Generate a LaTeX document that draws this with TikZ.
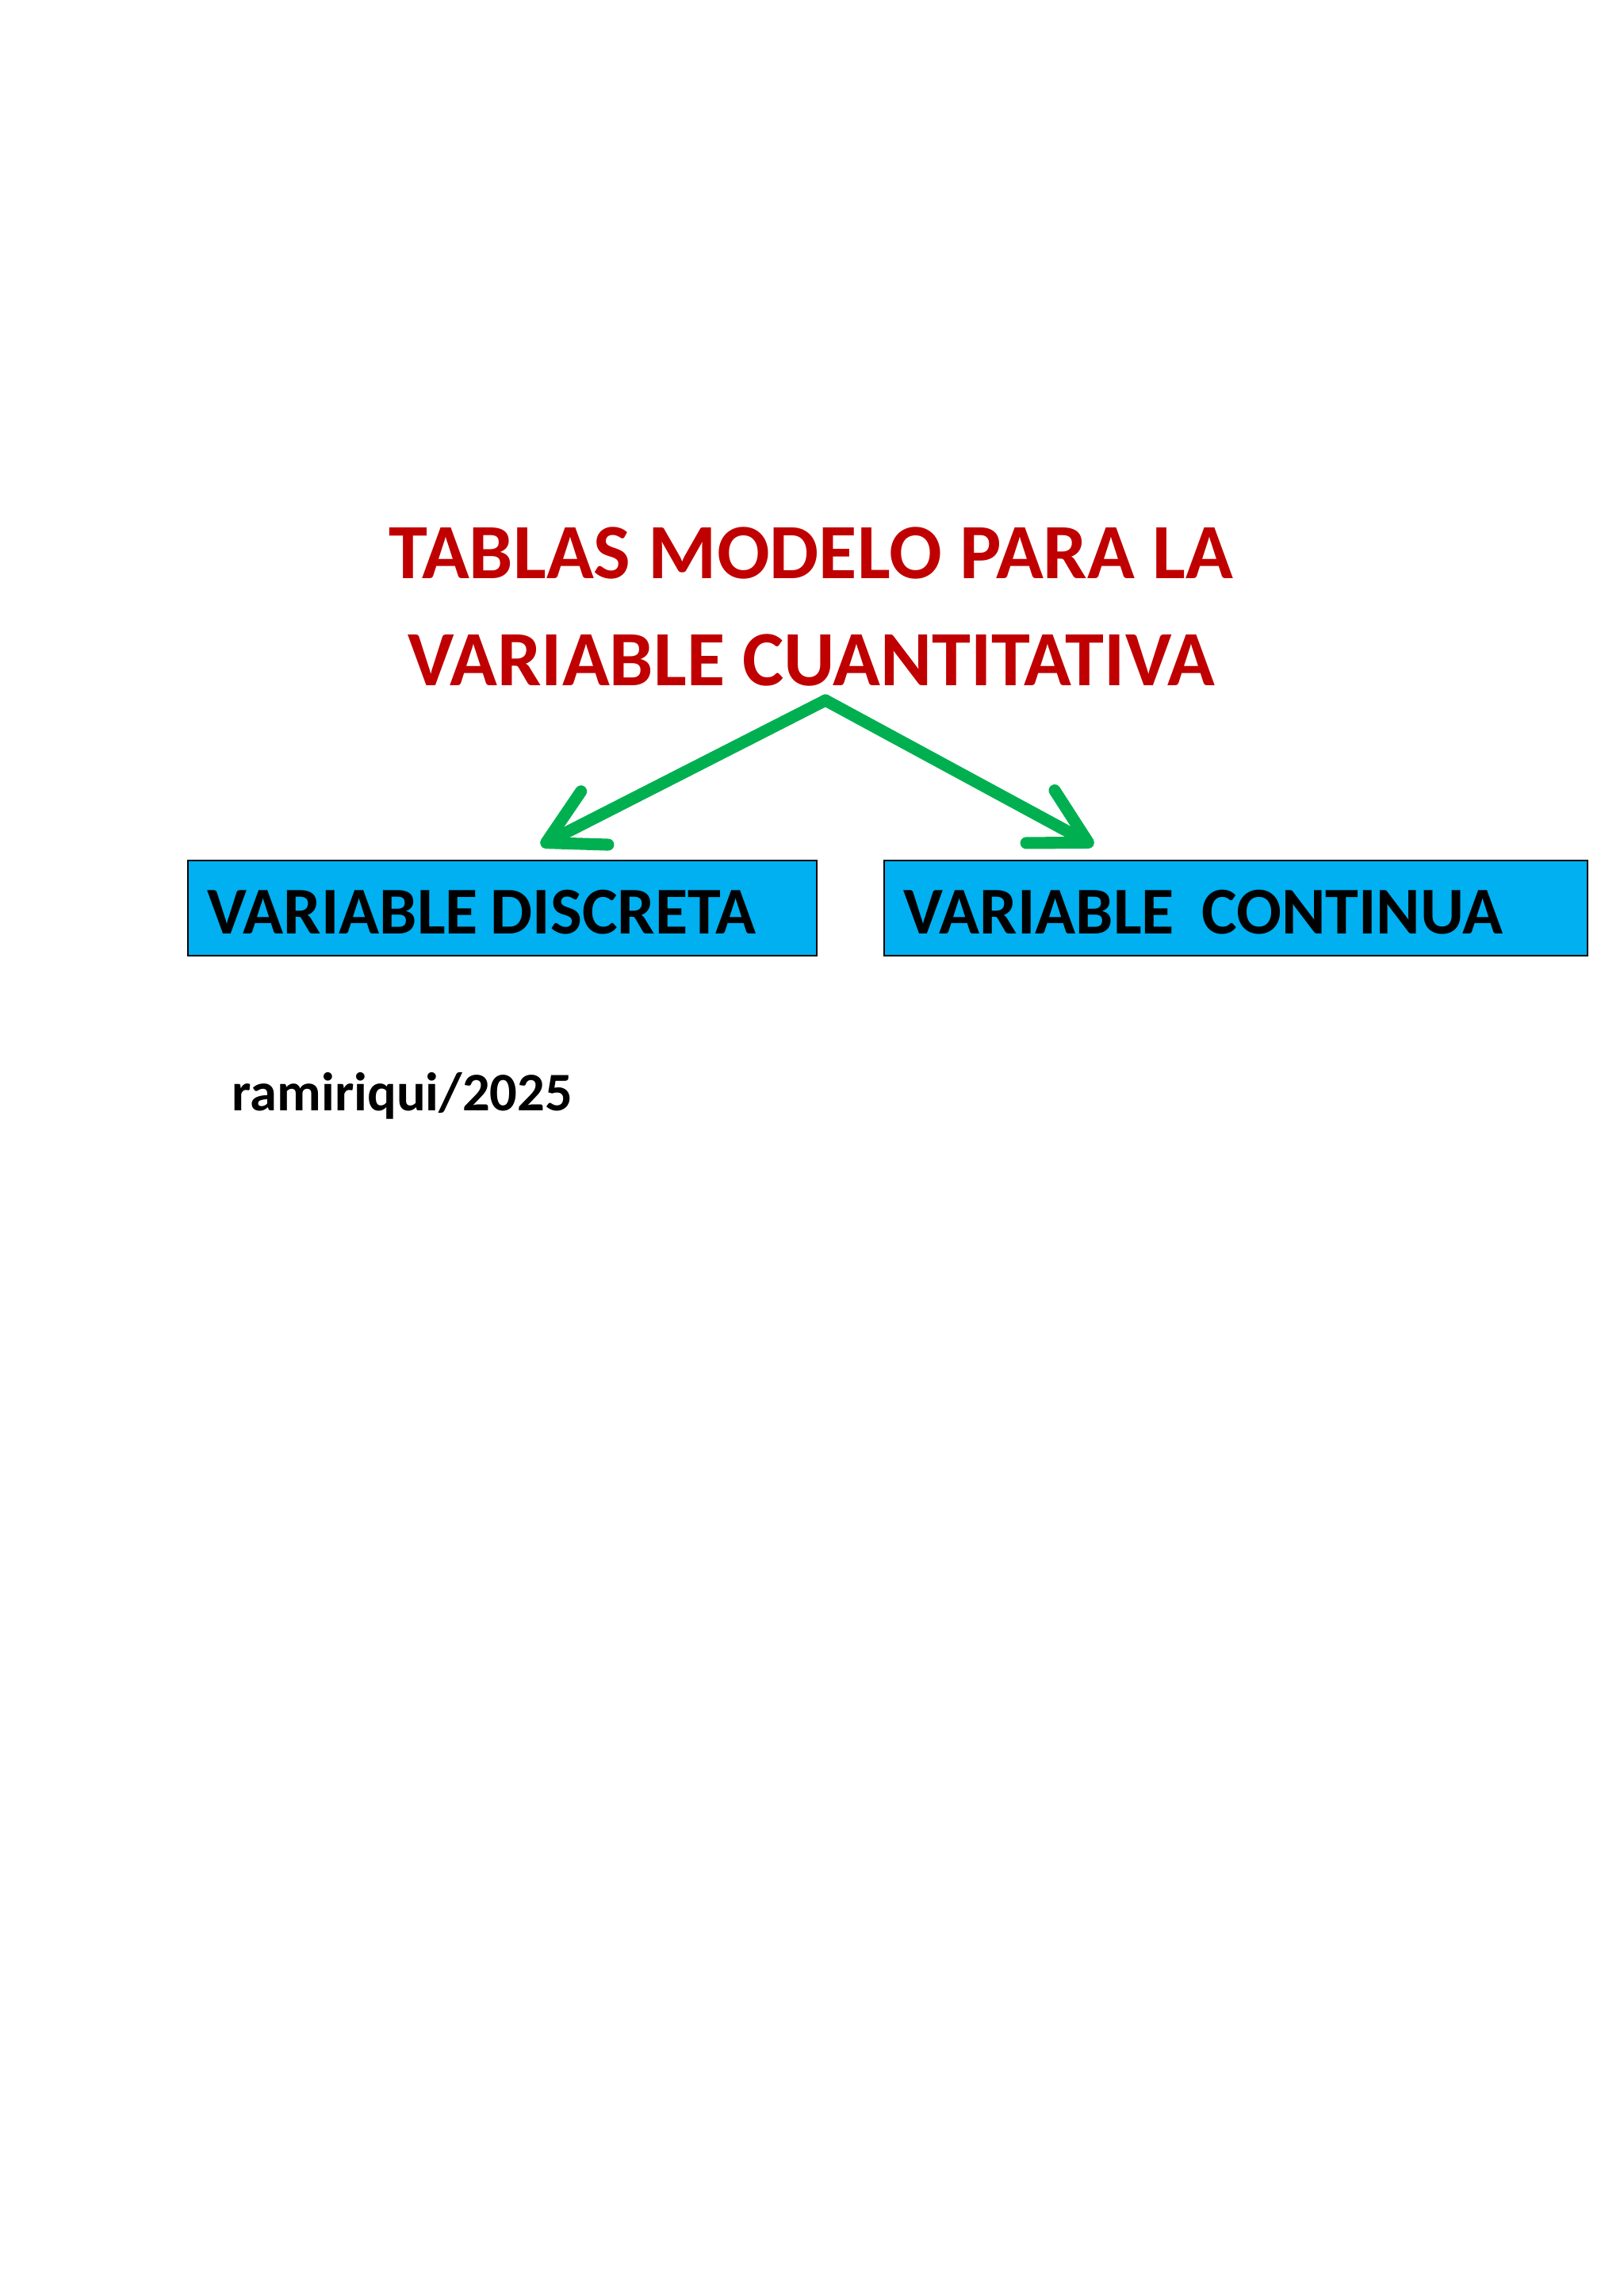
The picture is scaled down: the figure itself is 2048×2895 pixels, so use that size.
\documentclass[tikz,border=0pt]{standalone}
\usepackage{fontspec}
\setmainfont{Carlito}
\usepackage{xcolor}
\usetikzlibrary{arrows.meta,positioning}
\definecolor{titlered}{HTML}{C00000}
\definecolor{arrowgreen}{HTML}{00B050}
\definecolor{boxblue}{HTML}{00B0F0}
\tikzset{every node/.append style={scale=1}}
\tikzset{
  titletext/.style={anchor=base,text=titlered,font=\fontsize{28.8}{34}\selectfont\bfseries,inner sep=0pt},
  varbox/.style={draw=black,line width=0.5pt,fill=boxblue,anchor=north west,minimum height=1.23cm,
    inner xsep=0.25cm,text height=19pt,align=left,font=\fontsize{24.6}{29}\selectfont\bfseries,
    execute at begin node={\spaceskip=4.6pt\relax}},
  splitarrow/.style={draw=arrowgreen,line width=4.4pt,line cap=round,
    -{Straight Barb[length=20pt,width=22pt,round]}}
}

\begin{document}
\begin{tikzpicture}[x=0.01025cm,y=-0.01025cm]
      \useasboundingbox (0,0) rectangle (2048,2895);

      \node[titletext] at (1023,729) (title1) {TABLAS MODELO PARA LA};
      \node[titletext] at (1023,864) (title2) {VARIABLE CUANTITATIVA};

      \coordinate (apex) at (1041,883);
      \coordinate (tipdisc) at (682,1066);
      \coordinate (tipcont) at (1379,1066);

      \node[varbox,text width=7.63cm] at (236,1084) (discreta) {VARIABLE DISCRETA};
      \node[varbox,text width=8.6cm] at (1114,1084) (continua) {VARIABLE\hspace{10pt}CONTINUA};

      \node[anchor=base west,inner sep=0pt,font=\fontsize{20}{24}\selectfont\bfseries] at (292,1400) (autor) {ramiriqui/2025};

      \draw[splitarrow] (apex) -- (tipdisc);
      \draw[splitarrow] (apex) -- (tipcont);
    \end{tikzpicture}
\end{document}
